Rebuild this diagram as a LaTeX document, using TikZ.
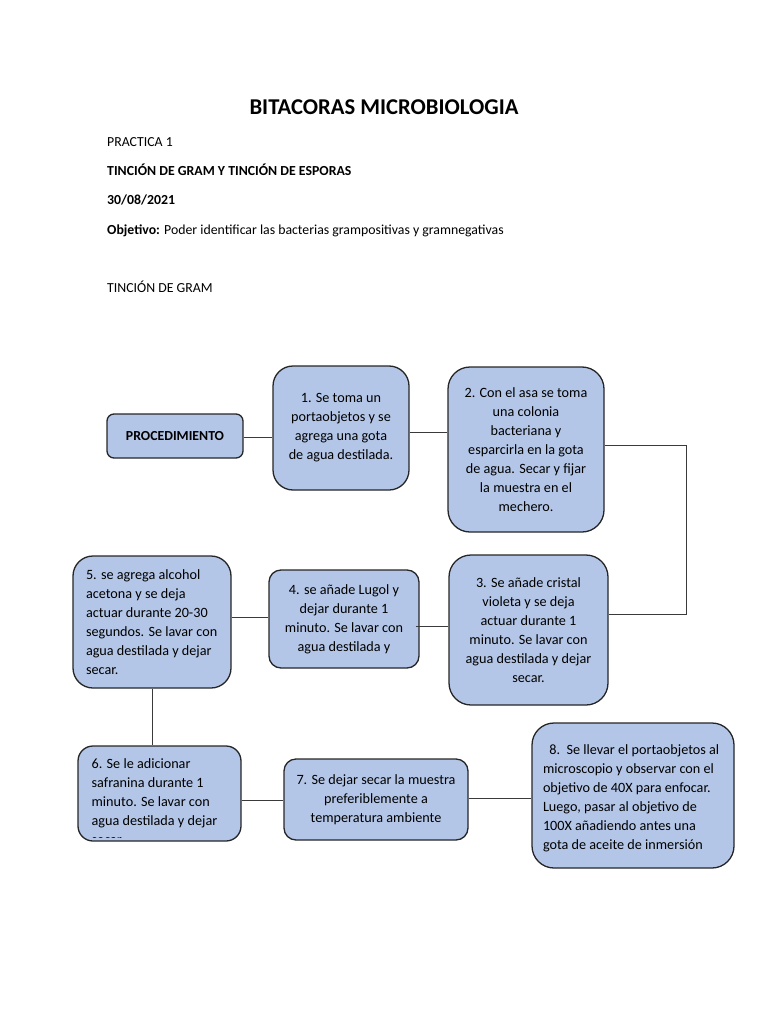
\documentclass[tikz,border=0pt]{standalone}
\usepackage{fontspec}
\setmainfont{Carlito}
\definecolor{boxfill}{HTML}{B4C6E7}
\definecolor{boxline}{HTML}{262626}
\definecolor{conn}{HTML}{3A3A3A}
\begin{document}
\begin{tikzpicture}[x=1pt,y=-1pt,
  box/.style={draw=boxline,fill=boxfill,line width=1.3pt,inner sep=0pt,
    font=\fontsize{14.2}{19}\selectfont,text=black},
  cbox/.style={box,align=center},
  lbox/.style={box,align=flush left},
  link/.style={draw=conn,line width=0.9pt},
  hdr/.style={anchor=base west,inner sep=0pt,font=\fontsize{13.8}{16}\selectfont}]
\useasboundingbox (0,0) rectangle (768,1024);

% header
\node[anchor=base,inner sep=0pt,font=\fontsize{22.6}{26}\selectfont\bfseries] (title) at (384,115) {BITACORAS MICROBIOLOGIA};
\node[hdr] (prac) at (107,147) {PRACTICA 1};
\node[hdr,font=\fontsize{13.8}{16}\selectfont\bfseries] (tin) at (107,176) {TINCIÓN DE GRAM Y TINCIÓN DE ESPORAS};
\node[hdr,font=\fontsize{13.8}{16}\selectfont\bfseries] (fecha) at (107,205) {30/08/2021};
\node[hdr] (obj) at (107,234) {\textbf{Objetivo:} Poder identificar las bacterias grampositivas y gramnegativas};
\node[hdr] (tgram) at (107,292) {TINCIÓN DE GRAM};

% boxes
\node[cbox,rounded corners=7pt,minimum width=136pt,minimum height=44pt,font=\fontsize{13.8}{19}\selectfont\bfseries] (proc) at (175,436) {PROCEDIMIENTO};
\node[cbox,rounded corners=20pt,minimum width=136pt,minimum height=124pt] (b1) at (341,428)
  {1. Se toma un\\portaobjetos y se\\agrega una gota\\de agua destilada.};
\node[cbox,rounded corners=22pt,minimum width=156pt,minimum height=165pt] (b2) at (526,449.5)
  {2. Con el asa se toma\\una colonia\\bacteriana y\\esparcirla en la gota\\de agua. Secar y fijar\\la muestra en el\\mechero.};
\node[cbox,rounded corners=22pt,minimum width=159pt,minimum height=150pt] (b3) at (528.5,630)
  {3. Se añade cristal\\violeta y se deja\\actuar durante 1\\minuto. Se lavar con\\agua destilada y dejar\\secar.};
\node[cbox,rounded corners=12pt,minimum width=150pt,minimum height=98pt] (b4) at (344,619)
  {4. se añade Lugol y\\dejar durante 1\\minuto. Se lavar con\\agua destilada y};
\node[lbox,rounded corners=20pt,text width=132pt,inner xsep=13pt,minimum height=132pt] (b5) at (152,622)
  {5. se agrega alcohol\\acetona y se deja\\actuar durante 20-30\\segundos. Se lavar con\\agua destilada y dejar\\secar.};
\node[box,rounded corners=15pt,minimum width=163pt,minimum height=95pt] (b6) at (159.5,793.5) {};
\begin{scope}
  \clip (80,748) rectangle (239,837);
  \node[lbox,draw=none,fill=none,text width=137pt,anchor=north west] (b6t) at (91,758)
    {6. Se le adicionar\\safranina durante 1\\minuto. Se lavar con\\agua destilada y dejar\\secar.};
\end{scope}
\node[cbox,rounded corners=12pt,minimum width=184pt,minimum height=81pt] (b7) at (376,799.5)
  {7. Se dejar secar la muestra\\preferiblemente a\\temperatura ambiente};
\node[lbox,rounded corners=22pt,text width=180pt,inner xsep=11pt,minimum height=145pt] (b8) at (633,795.5)
  {\rule{0pt}{16pt}\ \ 8.\ \ Se llevar el portaobjetos al\\microscopio y observar con el\\objetivo de 40X para enfocar.\\Luego, pasar al objetivo de\\100X añadiendo antes una\\gota de aceite de inmersión};

% connectors
\coordinate (k1) at (0,437);
\coordinate (k2) at (0,432);
\coordinate (c1) at (686,445);
\coordinate (c2) at (686,614);
\coordinate (k4) at (0,626);
\coordinate (k5) at (0,617);
\coordinate (k6) at (0,800);
\coordinate (k7) at (0,798);
\draw[link] (proc.east |- k1) -- (b1.west |- k1);
\draw[link] (b1.east |- k2) -- (b2.west |- k2);
\draw[link] (b2.east |- c1) -- (c1) -- (c2) -- (b3.east |- c2);
\draw[link] ([xshift=-4pt]b4.east |- k4) -- (b3.west |- k4);
\draw[link] (b5.east |- k5) -- (b4.west |- k5);
\draw[link] (b5.south) -- (b5.south |- b6.north);
\draw[link] (b6.east |- k6) -- (b7.west |- k6);
\draw[link] (b7.east |- k7) -- (b8.west |- k7);
\end{tikzpicture}
\end{document}
